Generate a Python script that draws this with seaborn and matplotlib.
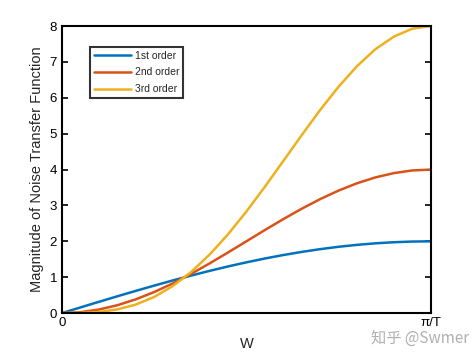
import numpy as np
import pandas as pd
import matplotlib
matplotlib.use("Agg")
import matplotlib.pyplot as plt
import seaborn as sns

# frequency as a fraction of pi/T
w_frac = [0.0, 0.05, 0.1, 0.15, 0.2, 0.25, 0.3, 0.35, 0.4, 0.45, 0.5,
          0.55, 0.6, 0.65, 0.7, 0.75, 0.8, 0.85, 0.9, 0.95, 1.0]

# values
first_order = [0.0, 0.157, 0.313, 0.467, 0.618, 0.765, 0.908, 1.045, 1.176, 1.299, 1.414,
               1.521, 1.618, 1.705, 1.782, 1.848, 1.902, 1.945, 1.975, 1.994, 2.0]
second_order = [0.0, 0.025, 0.098, 0.218, 0.382, 0.586, 0.824, 1.092, 1.382, 1.687, 2.0,
                2.313, 2.618, 2.908, 3.176, 3.414, 3.618, 3.782, 3.902, 3.976, 4.0]
third_order = [0.0, 0.004, 0.031, 0.102, 0.236, 0.448, 0.749, 1.141, 1.626, 2.191, 2.828,
               3.518, 4.236, 4.958, 5.660, 6.309, 6.882, 7.357, 7.706, 7.928, 8.0]

series_names = ["1st order", "2nd order", "3rd order"]
colors = ["#0072BD", "#D95319", "#EDB120"]

df = pd.DataFrame({
    "w": w_frac * 3,
    "mag": first_order + second_order + third_order,
    "order": [n for n in series_names for _ in w_frac],
})

sns.set_style("ticks")
plt.rcParams['font.family'] = ['Liberation Sans', 'DejaVu Sans']

fig = plt.figure(figsize=(4.76, 3.57), dpi=100)
ax = fig.add_axes([0.130, 0.123, 0.775, 0.804])

sns.lineplot(data=df, x="w", y="mag", hue="order", palette=colors,
             linewidth=1.8, ax=ax, legend=False)

ax.set_xlim(0, 1)
ax.set_ylim(0, 8)
ax.set_xticks([0, 1])
ax.set_xticklabels(["0", "π/T"])
ax.set_yticks(range(0, 9))
ax.tick_params(direction="in", length=4, width=1.2, labelsize=9.5,
               right=True, top=False, colors="black")
ax.tick_params(axis="x", pad=3)
for s in ax.spines.values():
    s.set_visible(True)
    s.set_linewidth(1.5)
    s.set_color("black")

ax.set_xlabel("W", fontsize=10.5)
ax.set_ylabel("Magnitude of Noise Transfer Function", fontsize=10.5)
ax.xaxis.set_label_coords(0.5, -0.085)

lines = ax.get_lines()
leg = ax.legend(lines[:3], series_names, loc="upper left",
                bbox_to_anchor=(0.063, 0.945), fontsize=7.5, frameon=True,
                fancybox=False, handlelength=3.6, handletextpad=0.3,
                borderpad=0.35, labelspacing=0.65)
leg.get_frame().set_edgecolor("black")
leg.get_frame().set_linewidth(1.5)

fig.text(0.78, 0.04, "知乎 @Swmer", color="#b0b0b0", fontsize=11,
         family=['Noto Sans CJK SC', 'DejaVu Sans'])

fig.savefig("out.png", dpi=100)
